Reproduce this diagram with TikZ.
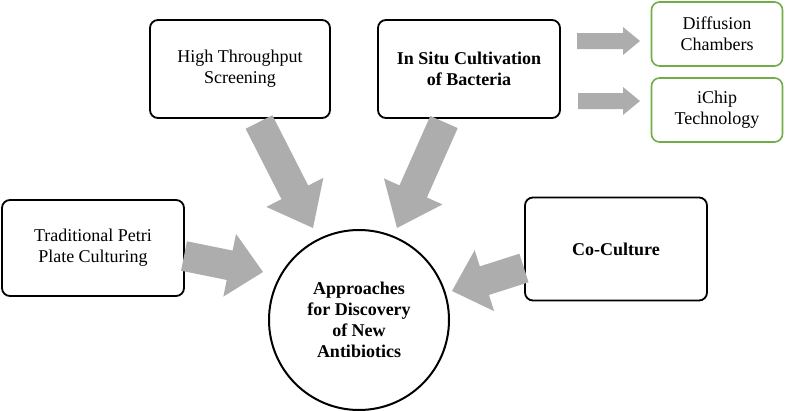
\documentclass[tikz,border=0pt]{standalone}
\usepackage{fontspec}
\setmainfont{Liberation Serif}
\usetikzlibrary{calc}
\begin{document}
\begin{tikzpicture}[x=1pt,y=-1pt,
  box/.style={draw,line width=1.8pt,rounded corners=8pt,align=center,font=\fontsize{18}{21}\selectfont,inner sep=0pt},
  gbox/.style={draw={rgb,255:red,112;green,173;blue,71},line width=1.6pt,rounded corners=8pt,align=center,font=\fontsize{18}{21}\selectfont,inner sep=0pt,minimum width=131,minimum height=64},
  agray/.style={fill=black!32}]
\useasboundingbox (0,0) rectangle (785,410);
\newcommand\fatarrow[5]{% start end bodyhalf headhalf headlen
  \coordinate (h) at ($(#2)!#5pt!(#1)$);
  \fill[agray] ($(#1)!#3pt!90:(#2)$) -- ($(h)!#3pt!-90:(#1)$) -- ($(h)!#4pt!-90:(#1)$) -- (#2)
   -- ($(h)!#4pt!90:(#1)$) -- ($(h)!#3pt!90:(#1)$) -- ($(#1)!#3pt!-90:(#2)$) -- cycle;}
\node[box,minimum width=182,minimum height=96] (tp) at (93,248) {Traditional Petri\\Plate Culturing};
\node[box,minimum width=180,minimum height=98] (ht) at (240,69) {High Throughput\\Screening};
\node[box,minimum width=182,minimum height=98,font=\fontsize{18}{21}\selectfont\bfseries] (is) at (469,69) {In Situ Cultivation\\of Bacteria};
\node[box,minimum width=182,minimum height=103,font=\fontsize{18}{21}\selectfont\bfseries] (cc) at (616,249) {Co-Culture};
\node[draw,circle,line width=2pt,minimum size=180,inner sep=0pt,align=center,font=\fontsize{18}{21}\selectfont\bfseries] (ap) at (359,320) {Approaches\\for Discovery\\of New\\Antibiotics};
\node[gbox] (dc) at (717,34) {Diffusion\\Chambers};
\node[gbox] (ic) at (717,110) {iChip\\Technology};
\coordinate (a1) at (259,122); \coordinate (b1) at (313,228);
\coordinate (a2) at (444,122); \coordinate (b2) at (397,228);
\coordinate (a3) at (184,256); \coordinate (b3) at (263,272);
\coordinate (a4) at (524,268); \coordinate (b4) at (452,291);
\coordinate (a5) at (577,41); \coordinate (b5) at (640,41);
\coordinate (a6) at (578,101); \coordinate (b6) at (640,101);
\fatarrow{a1}{b1}{15}{32}{40}
\fatarrow{a2}{b2}{15}{32}{40}
\fatarrow{a3}{b3}{15}{32}{34}
\fatarrow{a4}{b4}{15}{32}{34}
\fatarrow{a5}{b5}{8}{14}{17}
\fatarrow{a6}{b6}{8}{14}{17}
\end{tikzpicture}
\end{document}
